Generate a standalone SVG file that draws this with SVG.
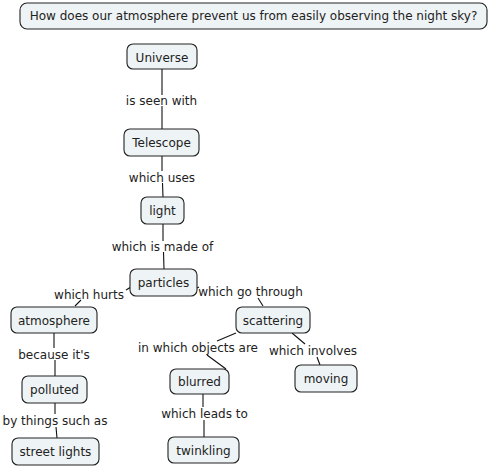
<svg xmlns="http://www.w3.org/2000/svg" width="489" height="468" viewBox="0 0 489 468">
<style>
.n rect{fill:#eef3f5;stroke:#222;stroke-width:1.1}
text{font-family:"DejaVu Sans",Verdana,sans-serif;font-size:12px;fill:#222;text-anchor:middle}
.c line{stroke:#111;stroke-width:1.1}
</style>
<rect width="489" height="468" fill="#fff"/>
<g class="c">
<line x1="162" y1="69" x2="162" y2="95"/><line x1="162" y1="106" x2="162" y2="129"/>
<line x1="162" y1="156" x2="162" y2="171"/><line x1="162.5" y1="183" x2="163" y2="197"/>
<line x1="163" y1="224" x2="163" y2="241"/><line x1="163.5" y1="252" x2="164" y2="269"/>
<line x1="131" y1="287" x2="126" y2="290"/><line x1="81" y1="300" x2="75" y2="306"/>
<line x1="197" y1="288" x2="199" y2="287"/><line x1="258" y1="298" x2="263" y2="306"/>
<line x1="236" y1="333" x2="217" y2="341"/><line x1="207" y1="355" x2="226" y2="369"/>
<line x1="292" y1="333" x2="305" y2="344"/><line x1="317" y1="357" x2="320" y2="365"/>
<line x1="54" y1="333" x2="54" y2="348"/><line x1="55" y1="360" x2="55" y2="376"/>
<line x1="55" y1="403" x2="55" y2="414"/><line x1="56" y1="427" x2="57" y2="438"/>
<line x1="203" y1="394" x2="203" y2="407"/><line x1="204" y1="420" x2="204" y2="437"/>
</g>
<g id="labels">
<text x="161.5" y="104.5">is seen with</text>
<text x="162" y="181.5">which uses</text>
<text x="162.5" y="250.5">which is made of</text>
<text x="89" y="298.5">which hurts</text>
<text x="250.5" y="295.5">which go through</text>
<text x="198" y="351.5">in which objects are</text>
<text x="313" y="354.5">which involves</text>
<text x="54" y="358.5">because it's</text>
<text x="55" y="424.5">by things such as</text>
<text x="204.5" y="417.5">which leads to</text>
</g>
<g id="title" class="n"><rect x="20" y="3" width="467" height="26" rx="7"/><text x="253.5" y="20">How does our atmosphere prevent us from easily observing the night sky?</text></g>
<g id="universe" class="n"><rect x="127" y="44" width="70" height="25" rx="6"/><text x="162" y="61.5">Universe</text></g>
<g id="telescope" class="n"><rect x="124" y="129" width="75" height="27" rx="6"/><text x="161.5" y="146.5">Telescope</text></g>
<g id="light" class="n"><rect x="141" y="197" width="43" height="27" rx="6"/><text x="162.5" y="214.5">light</text></g>
<g id="particles" class="n"><rect x="130" y="269" width="67" height="27" rx="6"/><text x="163.5" y="286.5">particles</text></g>
<g id="atmosphere" class="n"><rect x="11" y="307" width="86" height="26" rx="6"/><text x="54" y="324.5">atmosphere</text></g>
<g id="scattering" class="n"><rect x="236" y="307" width="74" height="26" rx="6"/><text x="273" y="324.5">scattering</text></g>
<g id="blurred" class="n"><rect x="170" y="369" width="59" height="25" rx="6"/><text x="199.5" y="385.5">blurred</text></g>
<g id="moving" class="n"><rect x="295" y="365" width="62" height="27" rx="6"/><text x="326" y="382.5">moving</text></g>
<g id="polluted" class="n"><rect x="22" y="376" width="65" height="27" rx="6"/><text x="54.5" y="393.5">polluted</text></g>
<g id="streetlights" class="n"><rect x="12" y="438" width="87" height="27" rx="6"/><text x="55.5" y="455.5">street lights</text></g>
<g id="twinkling" class="n"><rect x="168" y="437" width="71" height="26" rx="6"/><text x="203.5" y="454.5">twinkling</text></g>
</svg>
